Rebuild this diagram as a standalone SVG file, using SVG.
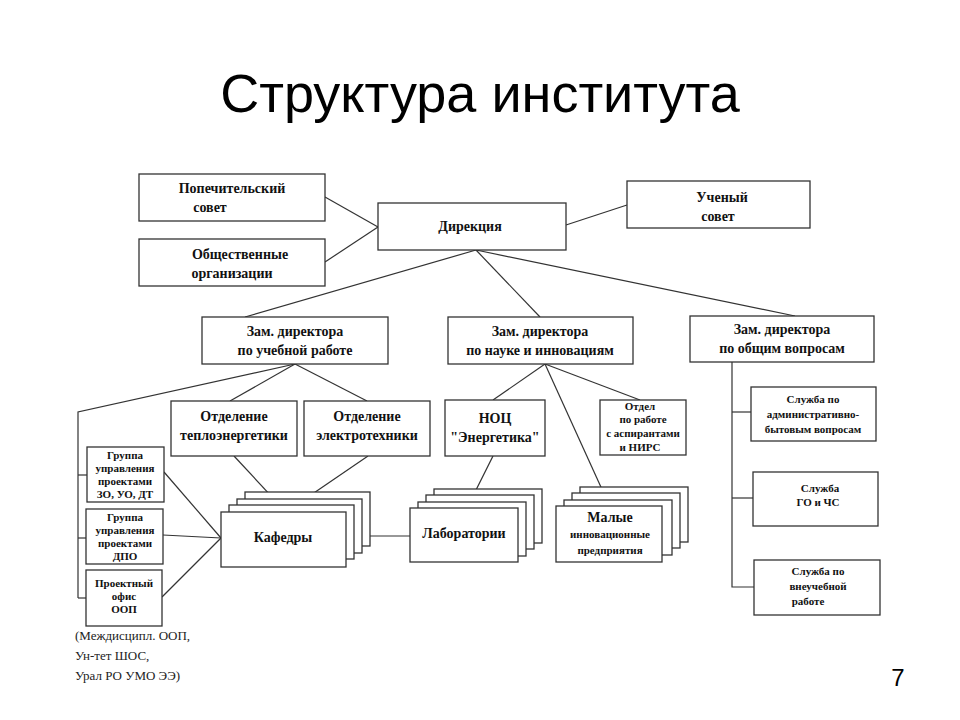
<svg xmlns="http://www.w3.org/2000/svg" width="960" height="720" viewBox="0 0 960 720">
<style>
.b{fill:#fff;stroke:#333;stroke-width:1.3}
.t{font-family:"Liberation Serif","Times New Roman","DejaVu Serif",serif;font-weight:bold;font-size:14px;text-anchor:middle;fill:#111}
.s{font-size:11px}
.f{font-family:"Liberation Serif","Times New Roman","DejaVu Serif",serif;font-size:13px;fill:#222}
.c line,.c polyline{stroke:#333;stroke-width:1.2;fill:none}
</style>
<rect width="960" height="720" fill="#fff"/>
<text x="480" y="112" font-family="Liberation Sans,sans-serif" font-size="54" text-anchor="middle" fill="#000">Структура института</text>
<g class="c">
<line x1="325" y1="197" x2="378" y2="227"/><line x1="325" y1="262" x2="378" y2="227"/>
<line x1="627" y1="205" x2="566" y2="225"/>
<line x1="476" y1="250" x2="245" y2="317"/><line x1="476" y1="250" x2="540" y2="317"/><line x1="476" y1="250" x2="795" y2="316"/>
<polyline points="295,364 78,412 78,598"/>
<line x1="78" y1="475" x2="87" y2="475"/><line x1="78" y1="538" x2="86" y2="538"/><line x1="78" y1="598" x2="86" y2="598"/>
<line x1="295" y1="364" x2="230" y2="401"/><line x1="295" y1="364" x2="367" y2="401"/>
<line x1="164" y1="472" x2="221" y2="538"/><line x1="163" y1="535" x2="221" y2="538"/><line x1="162" y1="597" x2="221" y2="538"/>
<line x1="234" y1="456" x2="286" y2="512"/><line x1="368" y1="456" x2="286" y2="512"/>
<line x1="346" y1="536" x2="410" y2="536"/>
<line x1="545" y1="364" x2="493" y2="400"/><line x1="545" y1="364" x2="610" y2="507"/><line x1="545" y1="364" x2="640" y2="400"/>
<line x1="493" y1="456" x2="467" y2="508"/>
<polyline points="732,362 732,587 754,587"/>
<line x1="732" y1="412" x2="751" y2="412"/><line x1="732" y1="498" x2="753" y2="498"/>
</g>
<g id="popech"><rect class="b" x="139" y="174" width="186" height="47"/><text class="t" x="232" y="193">Попечительский</text><text class="t" x="210" y="212">совет</text></g>
<g id="obsch"><rect class="b" x="139" y="239" width="186" height="47"/><text class="t" x="240" y="259">Общественные</text><text class="t" x="232" y="278">организации</text></g>
<g id="direkcia"><rect class="b" x="378" y="203" width="188" height="47"/><text class="t" x="470" y="231">Дирекция</text></g>
<g id="uchsovet"><rect class="b" x="627" y="181" width="183" height="47"/><text class="t" x="722" y="202">Ученый</text><text class="t" x="718" y="221">совет</text></g>
<g id="zam1"><rect class="b" x="202" y="317" width="186" height="47"/><text class="t" x="295" y="336">Зам. директора</text><text class="t" x="295" y="355">по учебной работе</text></g>
<g id="zam2"><rect class="b" x="448" y="317" width="185" height="47"/><text class="t" x="540" y="336">Зам. директора</text><text class="t" x="540" y="355">по науке и инновациям</text></g>
<g id="zam3"><rect class="b" x="690" y="316" width="184" height="46"/><text class="t" x="782" y="334">Зам. директора</text><text class="t" x="782" y="353">по общим вопросам</text></g>
<g id="teplo"><rect class="b" x="171" y="401" width="126" height="55"/><text class="t" x="234" y="421">Отделение</text><text class="t" x="234" y="440">теплоэнергетики</text></g>
<g id="elektro"><rect class="b" x="304" y="401" width="126" height="55"/><text class="t" x="367" y="421">Отделение</text><text class="t" x="367" y="440">электротехники</text></g>
<g id="gr1"><rect class="b" x="87" y="447" width="77" height="55"/><text class="t s" x="125" y="459">Группа</text><text class="t s" x="125" y="472">управления</text><text class="t s" x="125" y="485">проектами</text><text class="t s" x="125" y="498">ЗО, УО, ДТ</text></g>
<g id="gr2"><rect class="b" x="86" y="509" width="77" height="55"/><text class="t s" x="125" y="521">Группа</text><text class="t s" x="125" y="534">управления</text><text class="t s" x="125" y="547">проектами</text><text class="t s" x="125" y="560">ДПО</text></g>
<g id="gr3"><rect class="b" x="86" y="570" width="76" height="56"/><text class="t s" x="124" y="587">Проектный</text><text class="t s" x="124" y="600">офис</text><text class="t s" x="124" y="613">ООП</text></g>
<g id="kafedry"><rect class="b" x="245" y="492" width="125" height="54"/><rect class="b" x="237" y="499" width="125" height="54"/><rect class="b" x="229" y="505" width="125" height="54"/><rect class="b" x="221" y="512" width="125" height="55"/><text class="t" x="283" y="542" font-size="15">Кафедры</text></g>
<g id="noc"><rect class="b" x="445" y="400" width="100" height="56"/><text class="t" x="495" y="423">НОЦ</text><text class="t" x="495" y="442">"Энергетика"</text></g>
<g id="otdel"><rect class="b" x="600" y="400" width="86" height="55"/><text class="t s" x="640" y="410">Отдел</text><text class="t s" x="643" y="423">по работе</text><text class="t s" x="643" y="437">с аспирантами</text><text class="t s" x="640" y="451">и НИРС</text></g>
<g id="lab"><rect class="b" x="434" y="489" width="108" height="54"/><rect class="b" x="426" y="495" width="108" height="54"/><rect class="b" x="418" y="502" width="108" height="54"/><rect class="b" x="410" y="508" width="108" height="54"/><text class="t" x="464" y="538" font-size="15">Лаборатории</text></g>
<g id="malye"><rect class="b" x="580" y="487" width="108" height="55"/><rect class="b" x="572" y="493" width="108" height="55"/><rect class="b" x="564" y="500" width="108" height="55"/><rect class="b" x="556" y="506" width="106" height="56"/><text class="t" x="610" y="522" font-size="13">Малые</text><text class="t s" x="610" y="538">инновационные</text><text class="t s" x="610" y="554">предприятия</text></g>
<g id="sl1"><rect class="b" x="751" y="387" width="125" height="54"/><text class="t s" x="813" y="403">Служба по</text><text class="t s" x="813" y="418">административно-</text><text class="t s" x="813" y="433">бытовым вопросам</text></g>
<g id="sl2"><rect class="b" x="753" y="472" width="125" height="54"/><text class="t s" x="820" y="492">Служба</text><text class="t s" x="818" y="506">ГО и ЧС</text></g>
<g id="sl3"><rect class="b" x="754" y="560" width="126" height="55"/><text class="t s" x="818" y="575">Служба по</text><text class="t s" x="818" y="590">внеучебной</text><text class="t s" x="808" y="605">работе</text></g>
<g class="f">
<text class="f" x="75" y="640">(Междисципл. ООП,</text><text class="f" x="75" y="660">Ун-тет ШОС,</text><text class="f" x="75" y="680">Урал РО УМО ЭЭ)</text>
</g>
<text x="898" y="686" font-family="Liberation Sans,sans-serif" font-size="24" text-anchor="middle" fill="#000">7</text>
</svg>
